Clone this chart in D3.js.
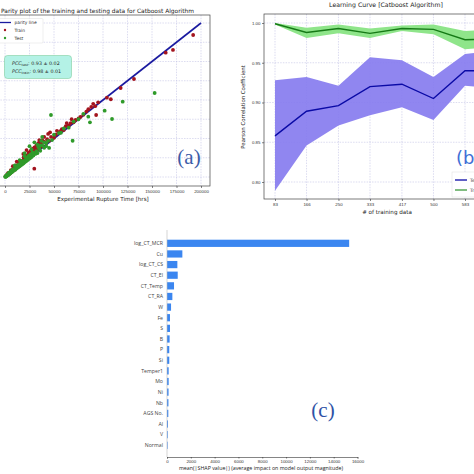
<!DOCTYPE html>
<html>
<head>
<meta charset="utf-8">
<script src="https://cdn.jsdelivr.net/npm/d3@7"></script>
<style>
  body { margin: 0; background: #fff; overflow: hidden; }
  svg { display: block; font-family: "DejaVu Sans", sans-serif; }
  .grid line { stroke: #c4c4e6; stroke-width: 0.6; stroke-dasharray: 1.5,1.2; }
  .ax path, .ax line { stroke: #333; stroke-width: 0.6; }
  .ax text { fill: #333; font-size: 4.4px; }
</style>
</head>
<body>
<script>
// panel (a): parity plot, [experimental, predicted] in hrs
var trainPoints = [
  [500,700],[1000,1500],[1500,1200],[2000,2600],[2500,2200],[3000,3800],[3500,3000],[4000,4900],
  [5000,4500],[5500,6500],[6000,5800],[7000,8200],[7500,7000],[8000,9500],[9000,8500],[10000,11500],
  [10500,10000],[11000,13000],[12000,12000],[13000,15500],[14000,13500],[15000,17500],[16000,16000],
  [17000,20000],[18000,18000],[19000,22500],[20000,21000],[21000,25000],[22000,23000],[23000,27500],
  [24000,26000],[25000,30000],[26000,27000],[27000,32000],[28000,31000],[29000,34500],[30000,32000],
  [31000,37000],[32000,35000],[33000,39000],[34000,36500],[35000,41000],[36000,39000],[37000,43000],
  [38000,40000],[40000,46000],[42000,44000],[43000,49000],[45000,47000],[47000,52000],[50000,51000],
  [52000,55000],[55000,58000],[57000,60000],[58000,62000],[60000,61000],[62000,66000],[65000,67000],
  [67000,70000],[70000,71000],[72000,74000],[75000,76000],[77000,78000],[80000,81000],[83000,85000],
  [85000,88000],[88000,91000],[90000,95000],[92000,92000],[93000,80500],[95000,97000],[104000,103000],
  [108000,101000],[118000,115600],[131600,127300],[164000,161400],[171400,165000],[192000,184400],
  [29900,10800],[18700,29900],[12000,20000],[22000,35000],[8000,14000],[35000,48000],[40000,52000],
  [3000,5000],[6000,9000],[9000,12500],[11000,15000],[14000,18500],[16000,21000],[19000,25500],
  [21000,28000],[24000,31500],[26000,33500],[28000,36500],[30000,38500],[32000,41000],[34000,44000],
  [36000,46000],[38000,48000],[44000,56000],[46000,58000],[53000,60000],[63000,70000],[68000,75000]
];
var testPoints = [
  [200,300],[600,400],[1000,1300],[1500,1000],[2000,2300],[2500,2000],[3000,3500],[3500,3200],
  [4000,4500],[4500,4000],[5000,5800],[5500,5200],[6000,6500],[6500,6000],[7000,7800],[7500,7200],
  [8000,8800],[8500,8000],[9000,9800],[10000,10500],[10500,9500],[11000,12000],[12000,11500],
  [13000,14000],[14000,13200],[15000,16000],[16000,15500],[17000,18500],[18000,17000],[19000,20500],
  [20000,19500],[21000,22500],[22000,21000],[23000,24500],[24000,23500],[25000,27000],[26000,25000],
  [27000,29000],[28000,27500],[30000,31000],[32000,33500],[33000,31000],[35000,37000],[36000,34000],
  [38000,41000],[40000,38000],[42000,44000],[45000,37700],[46900,80500],[30000,45000],[25000,40000],
  [20000,31000],[38000,52000],[48000,48000],[50000,55000],[55000,57000],[57100,57500],[60000,63000],
  [65000,64000],[69000,47100],[70000,72000],[75000,75000],[80000,82000],[85000,78300],[86700,71000],
  [101700,86100],[109200,75300],[120100,97800],[152700,109100],[15000,22000],[10000,15000],
  [1000,500],[2000,1500],[3000,2500],[4000,3500],[5000,4500],[7000,6500],[9000,8500],[11000,10500],
  [13000,12500],[15000,14000],[17000,16000],[19000,18000],[21000,20000],[23000,22000],[25000,24000],
  [27000,26000],[29000,28000],[31000,30000],[2000,3000],[4000,5500],[6000,7500],[8000,10000],
  [12000,14000],[14000,16500],[16000,18000],[18000,20500],[22000,25000],[24000,27500],[26000,29500],
  [28000,32000],[34000,39000],[36000,41000],[40000,45000],[42000,40000],[44000,47000],[20000,27000],
  [27000,36000],[33000,42000],[37000,47000]
];
var parityTicks = [0,25000,50000,75000,100000,125000,150000,175000,200000];

// panel (b): learning curve
var trainSizes = [83,166,250,333,417,500,583,667];
var sizeTicks = [83,166,250,333,417,500,583];
var testMean  = [0.858,0.889,0.896,0.920,0.923,0.905,0.940,0.940];
var testUpper = [0.928,0.932,0.921,0.957,0.953,0.932,0.961,0.965];
var testLower = [0.789,0.846,0.871,0.884,0.894,0.878,0.921,0.918];
var trainMean  = [0.999,0.988,0.993,0.987,0.993,0.992,0.979,0.980];
var trainUpper = [1.000,0.994,0.998,0.993,0.997,0.998,0.990,0.992];
var trainLower = [0.998,0.981,0.987,0.981,0.990,0.986,0.967,0.970];
var pccTicks = [0.80,0.85,0.90,0.95,1.00];

// panel (c): mean |SHAP|
var features = ["log_CT_MCR","Cu","log_CT_CS","CT_El","CT_Temp","CT_RA","W","Fe","S","B","P","Si",
  "Temper1","Mo","Ni","Nb","AGS No.","Al","V","Normal"];
var shapValues = [15300,1290,870,900,590,450,340,250,250,220,190,190,140,140,130,120,110,80,60,50];
var shapTicks = [0,2000,4000,6000,8000,10000,12000,14000,16000];

var svg = d3.select("body").append("svg").attr("width", 474).attr("height", 474);

// ---------- (a) ----------
var xA = d3.scaleLinear().domain([0, 200000]).range([5, 201]);
var yA = d3.scaleLinear().domain([0, 200000]).range([177, 23]);
var gA = svg.append("g");

gA.append("g").attr("class", "grid").selectAll("line").data(parityTicks).enter().append("line")
  .attr("x1", d => xA(d)).attr("x2", d => xA(d)).attr("y1", 15).attr("y2", 186);
gA.append("g").attr("class", "grid").selectAll("line").data(parityTicks).enter().append("line")
  .attr("x1", -5).attr("x2", 210).attr("y1", d => yA(d)).attr("y2", d => yA(d));

gA.append("line")
  .attr("x1", xA(0)).attr("y1", yA(0)).attr("x2", xA(200000)).attr("y2", yA(200000))
  .attr("stroke", "#1a1aa0").attr("stroke-width", 1.6);

gA.selectAll(".tr").data(trainPoints).enter().append("circle")
  .attr("cx", d => xA(d[0])).attr("cy", d => yA(d[1])).attr("r", 1.9)
  .attr("fill", "#a3141e");
gA.selectAll(".te").data(testPoints).enter().append("circle")
  .attr("cx", d => xA(d[0])).attr("cy", d => yA(d[1])).attr("r", 1.9)
  .attr("fill", "#2f9a2a");

gA.append("rect").attr("x", -5).attr("y", 15).attr("width", 215).attr("height", 171)
  .attr("fill", "none").attr("stroke", "#444").attr("stroke-width", 0.7);

gA.append("g").attr("class", "ax").attr("transform", "translate(0,186)")
  .call(d3.axisBottom(xA).tickValues(parityTicks).tickFormat(d3.format("d")).tickSize(2).tickPadding(1.5))
  .call(g => g.select(".domain").remove());

gA.append("text").attr("x", 1).attr("y", 12.5).attr("font-size", 5.9).attr("fill", "#222")
  .text("Parity plot of the training and testing data for Catboost Algorithm");
gA.append("text").attr("x", 103).attr("y", 201).attr("text-anchor", "middle")
  .attr("font-size", 5.6).attr("fill", "#222").text("Experimental Rupture Time [hrs]");

// legend
var lgA = gA.append("g");
lgA.append("rect").attr("x", -3).attr("y", 18.5).attr("width", 46).attr("height", 24.5)
  .attr("fill", "#fff").attr("stroke", "#ddd").attr("stroke-width", 0.5).attr("rx", 1);
lgA.append("line").attr("x1", 0).attr("x2", 11).attr("y1", 22.5).attr("y2", 22.5)
  .attr("stroke", "#1a1aa0").attr("stroke-width", 1.3);
lgA.append("circle").attr("cx", 5).attr("cy", 30).attr("r", 1.2).attr("fill", "#a3141e");
lgA.append("circle").attr("cx", 5).attr("cy", 38).attr("r", 1.2).attr("fill", "#2f9a2a");
[["parity line", 24.2], ["Train", 31.6], ["Test", 39.6]].forEach(function (d) {
  lgA.append("text").attr("x", 14.5).attr("y", d[1]).attr("font-size", 4.4).attr("fill", "#333").text(d[0]);
});

// PCC box
gA.append("rect").attr("x", 4.5).attr("y", 55.5).attr("width", 67).attr("height", 23).attr("rx", 3)
  .attr("fill", "#b4f2e6").attr("stroke", "#7fcfa0").attr("stroke-width", 0.6);
[["test", "0.93 ± 0.02", 65], ["train", "0.98 ± 0.01", 72.5]].forEach(function (d) {
  var t = gA.append("text").attr("x", 12).attr("y", d[2]).attr("font-size", 4.8).attr("fill", "#222");
  t.append("tspan").attr("font-style", "italic").text("PCC");
  t.append("tspan").attr("font-size", 3.4).attr("dy", 1.2).text(d[0]);
  t.append("tspan").attr("dy", -1.2).text(": " + d[1]);
});

gA.append("text").attr("x", 189).attr("y", 164).attr("text-anchor", "middle")
  .attr("font-family", "'Liberation Serif', serif").attr("font-size", 21).attr("fill", "#3d5ca8").text("(a)");

// ---------- (b) ----------
var xB = d3.scaleLinear().domain([83, 583]).range([275, 465]);
var yB = d3.scaleLinear().domain([0.80, 1.00]).range([182, 23]);
var gB = svg.append("g");
var idx = d3.range(trainSizes.length);

gB.append("g").attr("class", "grid").selectAll("line").data(sizeTicks).enter().append("line")
  .attr("x1", d => xB(d)).attr("x2", d => xB(d)).attr("y1", 14).attr("y2", 199);
gB.append("g").attr("class", "grid").selectAll("line").data(pccTicks).enter().append("line")
  .attr("x1", 264).attr("x2", 480).attr("y1", d => yB(d)).attr("y2", d => yB(d));

var area = (lo, hi) => d3.area().x(i => xB(trainSizes[i])).y0(i => yB(lo[i])).y1(i => yB(hi[i]));
var line = (m) => d3.line().x(i => xB(trainSizes[i])).y(i => yB(m[i]));

gB.append("path").datum(idx).attr("d", area(testLower, testUpper)).attr("fill", "#8479ee").attr("opacity", 0.9);
gB.append("path").datum(idx).attr("d", area(trainLower, trainUpper)).attr("fill", "#8fe58a");
gB.append("path").datum(idx).attr("d", line(testMean)).attr("fill", "none").attr("stroke", "#0a0aa6").attr("stroke-width", 1.4);
gB.append("path").datum(idx).attr("d", line(trainMean)).attr("fill", "none").attr("stroke", "#167a16").attr("stroke-width", 1.4);

gB.append("rect").attr("x", 264).attr("y", 14).attr("width", 216).attr("height", 185)
  .attr("fill", "none").attr("stroke", "#444").attr("stroke-width", 0.7);

gB.append("g").attr("class", "ax").attr("transform", "translate(0,199)")
  .call(d3.axisBottom(xB).tickValues(sizeTicks).tickFormat(d3.format("d")).tickSize(2).tickPadding(1.5))
  .call(g => g.select(".domain").remove());
gB.append("g").attr("class", "ax").attr("transform", "translate(264,0)")
  .call(d3.axisLeft(yB).tickValues(pccTicks).tickFormat(d3.format(".2f")).tickSize(2).tickPadding(1.5))
  .call(g => g.select(".domain").remove());

gB.append("text").attr("x", 386).attr("y", 7).attr("text-anchor", "middle")
  .attr("font-size", 6.2).attr("fill", "#222").text("Learning Curve [Catboost Algorithm]");
gB.append("text").attr("x", 387).attr("y", 214).attr("text-anchor", "middle")
  .attr("font-size", 5.6).attr("fill", "#222").text("# of training data");
gB.append("text").attr("transform", "translate(244.5,107) rotate(-90)").attr("text-anchor", "middle")
  .attr("font-size", 5.4).attr("fill", "#222").text("Pearson Correlation Coefficient");

gB.append("text").attr("x", 456).attr("y", 164)
  .attr("font-family", "'DejaVu Sans', sans-serif").attr("font-size", 18).attr("fill", "#3f6fd6").text("(b)");

var lgB = gB.append("g");
lgB.append("rect").attr("x", 452).attr("y", 172).attr("width", 40).attr("height", 25)
  .attr("fill", "#fff").attr("stroke", "#ddd").attr("stroke-width", 0.5);
lgB.append("line").attr("x1", 455).attr("x2", 467).attr("y1", 180).attr("y2", 180).attr("stroke", "#0a0aa6").attr("stroke-width", 1.3);
lgB.append("line").attr("x1", 455).attr("x2", 467).attr("y1", 190).attr("y2", 190).attr("stroke", "#3c9a3c").attr("stroke-width", 1.3);
lgB.append("text").attr("x", 470).attr("y", 181.8).attr("font-size", 4.6).attr("fill", "#333").text("Test");
lgB.append("text").attr("x", 470).attr("y", 191.8).attr("font-size", 4.6).attr("fill", "#333").text("Train");

// ---------- (c) ----------
var xC = d3.scaleLinear().domain([0, 16000]).range([167, 357.5]);
var yC = d3.scaleBand().domain(features).range([236.3, 452.3]).padding(0.32);
var gC = svg.append("g").attr("font-family", "'Open Sans', sans-serif");

gC.selectAll(".bar").data(features).enter().append("rect")
  .attr("x", xC(0)).attr("y", d => yC(d))
  .attr("width", (d, i) => xC(shapValues[i]) - xC(0)).attr("height", yC.bandwidth())
  .attr("fill", "#3b86f0");

gC.append("line").attr("x1", 167).attr("x2", 167).attr("y1", 230).attr("y2", 457)
  .attr("stroke", "#bbb").attr("stroke-width", 0.6);

gC.selectAll(".lab").data(features).enter().append("text")
  .attr("x", 163).attr("y", d => yC(d) + yC.bandwidth() / 2 + 1.8)
  .attr("text-anchor", "end").attr("font-size", 5.2).attr("fill", "#444").text(d => d);

gC.append("g").attr("class", "ax").attr("transform", "translate(0,457)")
  .call(d3.axisBottom(xC).tickValues(shapTicks).tickFormat(d3.format("d")).tickSize(1.5).tickPadding(1.5))
  .call(g => g.selectAll("text").attr("font-size", 3.9).attr("fill", "#666"))
  .call(g => g.select(".domain").attr("stroke", "#555"));

gC.append("text").attr("x", 261).attr("y", 470).attr("text-anchor", "middle")
  .attr("font-size", 5.3).attr("fill", "#222").text("mean(|SHAP value|) (average impact on model output magnitude)");

gC.append("text").attr("x", 323).attr("y", 417).attr("text-anchor", "middle")
  .attr("font-family", "'Liberation Serif', serif").attr("font-size", 21).attr("fill", "#2f52a6").text("(c)");
</script>
</body>
</html>
